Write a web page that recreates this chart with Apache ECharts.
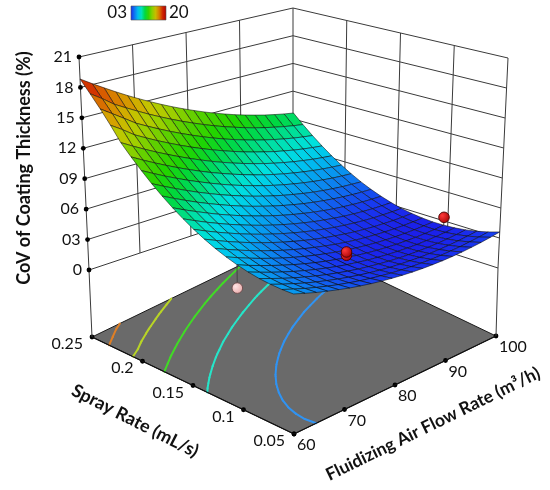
<!DOCTYPE html>
<html><head><meta charset="utf-8">
<script src="https://cdn.jsdelivr.net/npm/echarts@6/dist/echarts.min.js"></script>
<style>html,body{margin:0;padding:0;background:#fff}#c{width:550px;height:490px}</style>
</head><body><div id="c"></div>
<script>
// ---------- data ----------
const airFlow   = [60,62,64,66,68,70,72,74,76,78,80,82,84,86,88,90,92,94,96,98,100]; // m3/h
const sprayRate = [0.05,0.06,0.07,0.08,0.09,0.10,0.11,0.12,0.13,0.14,0.15,0.16,0.17,0.18,0.19,0.20,0.21,0.22,0.23,0.24,0.25]; // mL/s
// CoV of coating thickness (%) ; rows = spray rate, columns = air flow
const cov = [
 [5.74,5.39,5.06,4.77,4.50,4.25,4.04,3.85,3.69,3.56,3.45,3.37,3.32,3.30,3.30,3.33,3.39,3.48,3.59,3.73,3.90],
 [5.74,5.37,5.02,4.71,4.42,4.16,3.93,3.72,3.54,3.39,3.26,3.17,3.10,3.06,3.04,3.05,3.10,3.16,3.26,3.38,3.53],
 [5.81,5.42,5.06,4.72,4.41,4.14,3.88,3.66,3.46,3.29,3.15,3.03,2.95,2.89,2.85,2.85,2.87,2.92,2.99,3.10,3.23],
 [5.94,5.54,5.16,4.80,4.48,4.18,3.91,3.67,3.45,3.26,3.10,2.97,2.86,2.78,2.73,2.71,2.71,2.74,2.80,2.89,3.00],
 [6.15,5.73,5.33,4.96,4.61,4.30,4.01,3.75,3.51,3.30,3.13,2.97,2.85,2.75,2.68,2.64,2.62,2.64,2.68,2.74,2.84],
 [6.43,5.98,5.57,5.18,4.82,4.48,4.17,3.89,3.64,3.42,3.22,3.05,2.90,2.79,2.70,2.64,2.61,2.60,2.62,2.67,2.75],
 [6.78,6.31,5.88,5.47,5.09,4.73,4.41,4.11,3.84,3.60,3.38,3.19,3.03,2.90,2.79,2.71,2.66,2.63,2.64,2.67,2.72],
 [7.19,6.71,6.26,5.83,5.43,5.06,4.71,4.40,4.11,3.85,3.61,3.40,3.22,3.07,2.95,2.85,2.78,2.74,2.72,2.73,2.77],
 [7.68,7.18,6.70,6.26,5.84,5.45,5.09,4.75,4.45,4.17,3.91,3.69,3.49,3.32,3.17,3.06,2.97,2.91,2.87,2.87,2.89],
 [8.23,7.71,7.22,6.76,6.32,5.91,5.53,5.18,4.85,4.55,4.28,4.04,3.82,3.63,3.47,3.34,3.23,3.15,3.10,3.07,3.07],
 [8.86,8.32,7.81,7.33,6.87,6.45,6.05,5.67,5.33,5.01,4.72,4.46,4.22,4.02,3.84,3.68,3.56,3.46,3.39,3.35,3.33],
 [9.55,8.99,8.47,7.97,7.49,7.05,6.63,6.24,5.88,5.54,5.23,4.95,4.70,4.47,4.27,4.10,3.96,3.84,3.75,3.69,3.66],
 [10.31,9.74,9.19,8.67,8.18,7.72,7.28,6.87,6.49,6.14,5.81,5.51,5.24,4.99,4.78,4.59,4.43,4.29,4.18,4.10,4.05],
 [11.14,10.55,9.99,9.45,8.94,8.46,8.00,7.58,7.18,6.80,6.46,6.14,5.85,5.59,5.35,5.14,4.96,4.81,4.68,4.59,4.51],
 [12.05,11.44,10.85,10.30,9.77,9.27,8.80,8.35,7.93,7.54,7.18,6.84,6.53,6.25,6.00,5.77,5.57,5.40,5.25,5.14,5.05],
 [13.02,12.39,11.79,11.22,10.67,10.15,9.66,9.19,8.76,8.35,7.97,7.61,7.28,6.98,6.71,6.47,6.25,6.06,5.89,5.76,5.65],
 [14.06,13.41,12.79,12.20,11.64,11.10,10.59,10.11,9.65,9.22,8.82,8.45,8.10,7.78,7.49,7.23,6.99,6.79,6.60,6.45,6.32],
 [15.40,14.68,13.87,13.26,12.67,12.12,11.59,11.09,10.61,10.17,9.75,9.36,8.99,8.66,8.35,8.06,7.81,7.58,7.38,7.21,7.07],
 [16.65,15.90,15.15,14.38,13.78,13.21,12.66,12.14,11.65,11.18,10.74,10.33,9.95,9.60,9.27,8.97,8.70,8.45,8.23,8.04,7.88],
 [17.80,17.05,16.22,15.58,14.96,14.36,13.80,13.26,12.75,12.27,11.81,11.38,10.98,10.61,10.26,9.94,9.65,9.39,9.15,8.94,8.76],
 [18.92,18.20,17.51,16.84,16.20,15.59,15.01,14.45,13.92,13.42,12.95,12.50,12.08,11.69,11.32,10.99,10.68,10.39,10.14,9.91,9.71]
];
const zTicks = [0,3,6,9,12,15,18,21];
const zTickLabels = ['0','03','06','09','12','15','18','21'];
const airTicks = [60,70,80,90,100];
const airTickLabels = ['60','70','80','90','100'];
const sprayTicks = [0.05,0.1,0.15,0.2,0.25];
const sprayTickLabels = ['0.05','0.1','0.15','0.2','0.25'];
const contourLevels = [5,8,11,14,17];
const designAir = [60,80,80,100];
const designSpray = [0.1,0.1,0.1,0.1];
const designCov = [4.24,3.45,3.78,3.57];
const designPredicted = [6.43,3.22,3.22,2.75];
const legendRange = [3,20];
const legendLabels = ['03','20'];

// ---------- colour scale ----------
const COLOR_STOPS = [[2.5,'#1c1ce8'],[3.5,'#1838f0'],[5,'#0c80f0'],[6.5,'#00c0f0'],[7.5,'#00e0e0'],
 [8.5,'#00e0a0'],[9.8,'#00d840'],[11,'#20d400'],[12.5,'#60d000'],[13.5,'#98d000'],[14.5,'#c0c800'],
 [15.5,'#d4a800'],[16.5,'#d88000'],[17.5,'#d85000'],[18.5,'#cc1800'],[19.5,'#c00000'],[20,'#b00000']];
function hex(c){return [parseInt(c.slice(1,3),16),parseInt(c.slice(3,5),16),parseInt(c.slice(5,7),16)];}
function colorFor(val){
  const s=COLOR_STOPS;
  if(val<=s[0][0]) return s[0][1];
  if(val>=s[s.length-1][0]) return s[s.length-1][1];
  for(let k=0;k<s.length-1;k++){
    if(val<=s[k+1][0]){
      const t=(val-s[k][0])/(s[k+1][0]-s[k][0]);
      const a=hex(s[k][1]),b=hex(s[k+1][1]);
      return 'rgb('+a.map((x,i)=>Math.round(x+t*(b[i]-x))).join(',')+')';
    }
  }
}
function lighten(c,f){const m=c.match(/\d+/g).map(Number);return 'rgb('+m.map(x=>Math.round(x+(255-x)*f)).join(',')+')';}

// ---------- projection ----------
const AIR0=airTicks[0], AIR1=airTicks[airTicks.length-1];
const SP0=sprayTicks[0], SP1=sprayTicks[sprayTicks.length-1];
const ZTOP=zTicks[zTicks.length-1];
const uOf=a=>(a-AIR0)/(AIR1-AIR0), vOf=s=>(s-SP0)/(SP1-SP0);
const EL=22*Math.PI/180, SE=Math.sin(EL), CE=Math.cos(EL);
const CAM={cx:293.5, cy:270, f:1759.7, dist:6.085, zk:0.03607};
function persp(u,v,z){
  const X=u-.5,Y=v-.5,r=(X-Y)/Math.SQRT2,h=(X+Y)/Math.SQRT2,Z=z*CAM.zk;
  const up=Z*CE+h*SE, d=h*CE-Z*SE, K=CAM.f/(CAM.dist+d);
  return [CAM.cx+r*K, CAM.cy-up*K, d];
}
const WALL_BASE={o:[294,336],u:[204,-68],v:[-205,-66]};
const WALL_TOP ={o:[294,107],u:[214,-49],v:[-215,-50]};
function aff(F,u,v){return [F.o[0]+u*F.u[0]+v*F.v[0], F.o[1]+u*F.u[1]+v*F.v[1]];}
function wall(u,v,z){const a=aff(WALL_BASE,u,v),b=aff(WALL_TOP,u,v),t=z/ZTOP;return [a[0]+t*(b[0]-a[0]),a[1]+t*(b[1]-a[1])];}
const FLOOR={o:[294,434],u:[202,-98],v:[-202,-97]};
const floorPt=(u,v)=>aff(FLOOR,u,v);

// ---------- geometry ----------
const wallSegs=[];
zTicks.forEach(z=>{wallSegs.push([wall(0,1,z),wall(1,1,z)]);wallSegs.push([wall(1,0,z),wall(1,1,z)]);});
airTicks.slice(1,-1).forEach(a=>wallSegs.push([wall(uOf(a),1,0),wall(uOf(a),1,ZTOP)]));
sprayTicks.slice(1,-1).forEach(s=>wallSegs.push([wall(1,vOf(s),0),wall(1,vOf(s),ZTOP)]));
[[0,1],[1,1],[1,0]].forEach(([u,v])=>{wallSegs.push([floorPt(u,v),wall(u,v,0)]);wallSegs.push([wall(u,v,0),wall(u,v,ZTOP)]);});

const contourSegs=[];
contourLevels.forEach(L=>{
  const col=lighten(colorFor(L),0.15);
  for(let j=0;j<sprayRate.length-1;j++)for(let i=0;i<airFlow.length-1;i++){
    const cs=[[i,j],[i+1,j],[i+1,j+1],[i,j+1]],pts=[];
    for(let k=0;k<4;k++){
      const [i1,j1]=cs[k],[i2,j2]=cs[(k+1)%4];
      const a=cov[j1][i1]-L,b=cov[j2][i2]-L;
      if((a<0)!==(b<0)){
        const t=a/(a-b);
        const u1=uOf(airFlow[i1]),u2=uOf(airFlow[i2]),v1=vOf(sprayRate[j1]),v2=vOf(sprayRate[j2]);
        pts.push(floorPt(u1+t*(u2-u1),v1+t*(v2-v1)));
      }
    }
    for(let k=0;k+1<pts.length;k+=2)contourSegs.push({a:pts[k],b:pts[k+1],c:col});
  }
});

const cells=[];
for(let j=0;j<sprayRate.length-1;j++)for(let i=0;i<airFlow.length-1;i++){
  const cs=[[i,j],[i+1,j],[i+1,j+1],[i,j+1]];
  const P=cs.map(([a,b])=>persp(uOf(airFlow[a]),vOf(sprayRate[b]),cov[b][a]));
  const mean=cs.reduce((s,[a,b])=>s+cov[b][a],0)/4;
  cells.push({pts:P.map(p=>[p[0],p[1]]),depth:P.reduce((s,p)=>s+p[2],0)/4,color:colorFor(mean)});
}
cells.sort((a,b)=>b.depth-a.depth);

const design=designAir.map((a,k)=>{
  const u=uOf(a),v=vOf(designSpray[k]);
  return {p:persp(u,v,designCov[k]),s:persp(u,v,designPredicted[k]),above:designCov[k]>=designPredicted[k]};
});
const below=design.filter(d=>!d.above), above=design.filter(d=>d.above).sort((a,b)=>b.p[2]-a.p[2]);

// ---------- chart ----------
const FONT='Lato, "Open Sans", sans-serif';
const idx=n=>Array.from({length:n},(_,k)=>[k,0]);
const seg=(api,a,b,stroke,w)=>{const A=api.coord(a),B=api.coord(b);return {type:'line',shape:{x1:A[0],y1:A[1],x2:B[0],y2:B[1]},style:{stroke,lineWidth:w}};};
function ball(api,d,fill0,fill1,stroke){
  const c=api.coord([d.p[0],d.p[1]]);
  return {type:'circle',shape:{cx:c[0],cy:c[1],r:5.3},style:{fill:new echarts.graphic.RadialGradient(0.35,0.35,0.75,[{offset:0,color:fill0},{offset:1,color:fill1}]),stroke,lineWidth:0.9}};
}
const option={
  animation:false,
  grid:{left:0,right:0,top:0,bottom:0},
  xAxis:{type:'value',min:0,max:550,show:false},
  yAxis:{type:'value',min:0,max:490,inverse:true,show:false},
  series:[
    {type:'custom',z:1,silent:true,data:idx(1),renderItem:(p,api)=>{
      const pts=[floorPt(0,0),floorPt(1,0),floorPt(1,1),floorPt(0,1)].map(q=>api.coord(q));
      return {type:'polygon',shape:{points:pts},style:{fill:'#6a6a6a',stroke:'#1a1a1a',lineWidth:1}};
    }},
    {type:'custom',z:2,silent:true,data:idx(contourSegs.length),renderItem:(p,api)=>{
      const s=contourSegs[p.dataIndex];const o=seg(api,s.a,s.b,s.c,2);o.style.lineCap='round';return o;
    }},
    {type:'custom',z:3,silent:true,data:idx(sprayTicks.length+airTicks.length),renderItem:(p,api)=>{
      const k=p.dataIndex;let q,lab;
      if(k<sprayTicks.length){q=api.coord(floorPt(0,vOf(sprayTicks[k])));
        lab={type:'text',x:q[0]-9,y:q[1]+7,style:{text:sprayTickLabels[k],font:'16px '+FONT,fill:'#111',align:'right',verticalAlign:'middle'}};}
      else{const m=k-sprayTicks.length;q=api.coord(floorPt(uOf(airTicks[m]),0));
        lab={type:'text',x:q[0]+3,y:q[1]+11,style:{text:airTickLabels[m],font:'16px '+FONT,fill:'#111',align:'left',verticalAlign:'middle'}};}
      return {type:'group',children:[{type:'circle',shape:{cx:q[0],cy:q[1],r:2.4},style:{fill:'#000'}},lab]};
    }},
    {type:'custom',z:4,silent:true,data:idx(1),renderItem:(p,api)=>{
      const a=floorPt(0,1),b=floorPt(0,0),c=floorPt(1,0);
      return {type:'group',children:[seg(api,a,b,'#111',1.1),seg(api,b,c,'#111',1.1)]};
    }},
    {type:'custom',z:5,silent:true,data:idx(wallSegs.length),renderItem:(p,api)=>{
      const s=wallSegs[p.dataIndex];return seg(api,s[0],s[1],'#3a3a3a',1);
    }},
    {type:'custom',z:6,silent:true,data:idx(zTicks.length),renderItem:(p,api)=>{
      const k=p.dataIndex,q=api.coord(wall(0,1,zTicks[k]));
      return {type:'group',children:[{type:'circle',shape:{cx:q[0],cy:q[1],r:2.4},style:{fill:'#000'}},
        {type:'text',x:q[0]-7,y:q[1],style:{text:zTickLabels[k],font:'16px '+FONT,fill:'#111',align:'right',verticalAlign:'middle'}}]};
    }},
    {type:'custom',z:7,silent:true,data:idx(below.length),renderItem:(p,api)=>{
      const d=below[p.dataIndex];
      return {type:'group',children:[seg(api,[d.p[0],d.p[1]],[d.s[0],d.s[1]],'#444',1),ball(api,d,'#ffe4e4','#e8a8a8','#6a4a4a')]};
    }},
    {type:'custom',z:8,silent:true,data:idx(cells.length),renderItem:(p,api)=>{
      const c=cells[p.dataIndex];
      return {type:'polygon',shape:{points:c.pts.map(q=>api.coord(q))},style:{fill:c.color,stroke:'#0c0c0c',lineWidth:0.55,lineJoin:'round'}};
    }},
    {type:'custom',z:9,silent:true,data:idx(above.length),renderItem:(p,api)=>{
      const d=above[p.dataIndex];
      return {type:'group',children:[seg(api,[d.p[0],d.p[1]],[d.s[0],d.s[1]],'#444',1),ball(api,d,'#ff3a3a','#a00000','#4a0000')]};
    }}
  ],
  graphic:[
    {type:'text',x:127,y:13,style:{text:legendLabels[0],font:'17px '+FONT,fill:'#111',align:'right',verticalAlign:'middle'}},
    {type:'rect',shape:{x:131,y:6,width:35,height:14},style:{stroke:'#555',lineWidth:0.6,
      fill:new echarts.graphic.LinearGradient(0,0,1,0,Array.from({length:11},(_,k)=>({offset:k/10,color:colorFor(legendRange[0]+k/10*(legendRange[1]-legendRange[0]))})))}},
    {type:'text',x:169,y:13,style:{text:legendLabels[1],font:'17px '+FONT,fill:'#111',align:'left',verticalAlign:'middle'}},
    {type:'text',x:24,y:168,rotation:Math.PI/2,style:{text:'CoV of Coating Thickness (%)',font:'bold 18px '+FONT,fill:'#111',align:'center',verticalAlign:'middle'}},
    {type:'text',x:135,y:421,rotation:-0.47,style:{text:'Spray Rate (mL/s)',font:'bold 18px '+FONT,fill:'#111',align:'center',verticalAlign:'middle'}},
    {type:'text',x:433,y:424,rotation:0.455,style:{text:'Fluidizing Air Flow Rate (m³/h)',font:'bold 17.5px '+FONT,fill:'#111',align:'center',verticalAlign:'middle'}}
  ]
};
const chart=echarts.init(document.getElementById('c'));
chart.setOption(option);
</script></body></html>
